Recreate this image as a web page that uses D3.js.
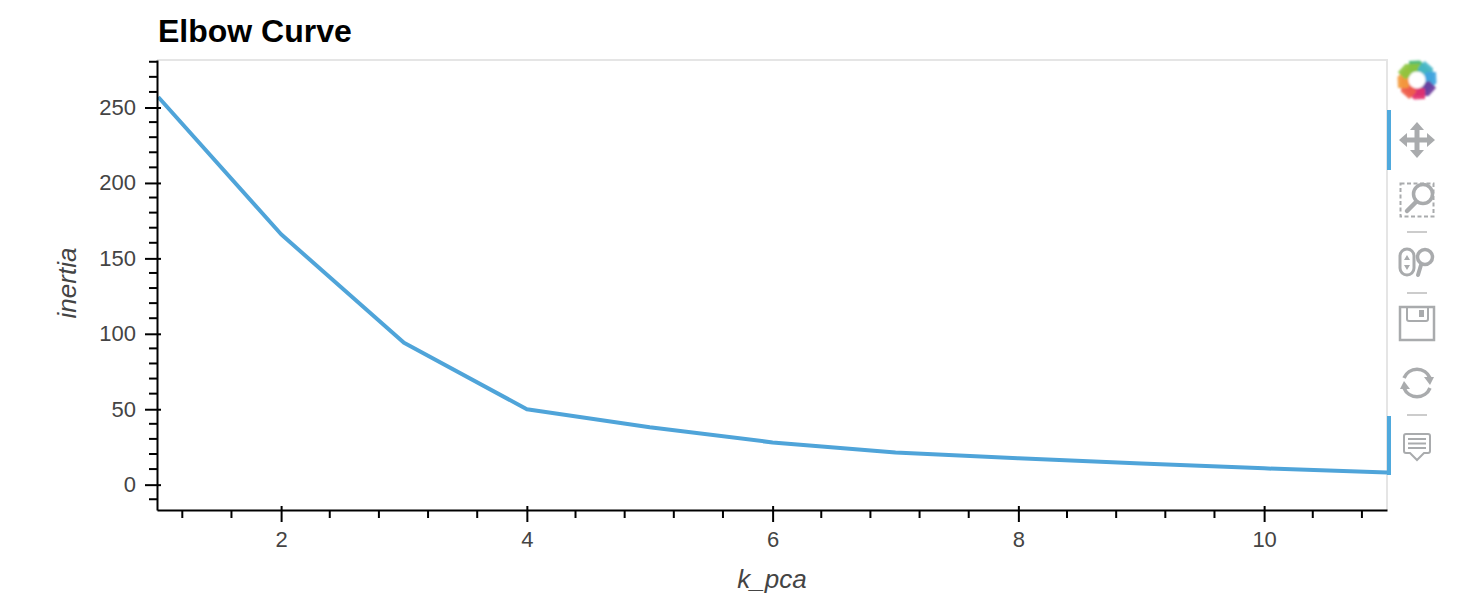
<!DOCTYPE html>
<html>
<head>
<meta charset="utf-8">
<script src="https://cdn.jsdelivr.net/npm/d3@7"></script>
<style>
  html, body { margin: 0; padding: 0; background: #fff; }
  svg { display: block; }
  text { font-family: "Liberation Sans", Arial, sans-serif; }
</style>
</head>
<body>
<div id="chart"></div>
<script>
const kValues = [1, 2, 3, 4, 5, 6, 7, 8, 9, 10, 11];
const inertia = [257, 166, 94, 50, 38, 28, 21.3, 17.5, 14, 10.8, 8];
const xTicks = [2, 4, 6, 8, 10];
const yTicks = [0, 50, 100, 150, 200, 250];
const xMinorTicks = [1.2, 1.6, 2.4, 2.8, 3.2, 3.6, 4.4, 4.8, 5.2, 5.6, 6.4, 6.8, 7.2, 7.6, 8.4, 8.8, 9.2, 9.6, 10.4, 10.8];
const yMinorTicks = [-10, 10, 20, 30, 40, 60, 70, 80, 90, 110, 120, 130, 140, 160, 170, 180, 190, 210, 220, 230, 240, 260, 270, 280];
const titleText = "Elbow Curve";
const xLabel = "k_pca";
const yLabel = "inertia";

const margin = { top: 60, right: 81, bottom: 96, left: 157 };
const width = 1468 - margin.left - margin.right;
const height = 606 - margin.top - margin.bottom;

const xScale = d3.scaleLinear().domain([0.99, 11]).range([0, width]);
const yScale = d3.scaleLinear().domain([-16.8, 281.5]).range([height, 0]);

const root = d3.select("#chart").append("svg")
    .attr("width", 1468)
    .attr("height", 606);

const svg = root.append("g")
    .attr("transform", `translate(${margin.left},${margin.top})`);

// plot frame, only top and right show
svg.append("path")
    .attr("d", `M0,0H${width}V${height}`)
    .attr("fill", "none")
    .attr("stroke", "#e5e5e5")
    .attr("stroke-width", 2);

// the curve
const line = d3.line()
    .x((d, i) => xScale(kValues[i]))
    .y(d => yScale(d));

svg.append("path")
    .datum(inertia)
    .attr("d", line)
    .attr("fill", "none")
    .attr("stroke", "#4fa4d9")
    .attr("stroke-width", 4)
    .attr("stroke-linejoin", "round");

// axes
function styleAxis(g) {
    g.selectAll("line, path").attr("stroke", "#000").attr("stroke-width", 2);
}

// minor ticks sit about a pixel before their exact spot in the reference
svg.append("g")
    .attr("transform", `translate(-1,${height})`)
    .call(d3.axisBottom(xScale).tickValues(xMinorTicks).tickSize(8).tickSizeOuter(0).tickFormat(""))
    .call(styleAxis)
    .call(g => g.select(".domain").remove());

const xAxis = svg.append("g")
    .attr("transform", `translate(0,${height})`)
    .call(d3.axisBottom(xScale).tickValues(xTicks).tickSize(12).tickSizeOuter(0).tickPadding(9))
    .call(styleAxis);
xAxis.selectAll(".tick line").attr("y1", -4);
xAxis.selectAll("text").attr("font-size", 22).attr("fill", "#444")
    .style("font-family", '"Liberation Sans", Arial, sans-serif');

svg.append("g")
    .attr("transform", "translate(0,-1)")
    .call(d3.axisLeft(yScale).tickValues(yMinorTicks).tickSize(8).tickSizeOuter(0).tickFormat(""))
    .call(styleAxis)
    .call(g => g.select(".domain").remove());

const yAxis = svg.append("g")
    .call(d3.axisLeft(yScale).tickValues(yTicks).tickSize(12).tickSizeOuter(0).tickPadding(9))
    .call(styleAxis);
yAxis.selectAll(".tick line").attr("x1", 4);
yAxis.selectAll("text").attr("font-size", 22).attr("fill", "#444")
    .style("font-family", '"Liberation Sans", Arial, sans-serif');

// labels
root.append("text")
    .attr("x", 158)
    .attr("y", 42)
    .attr("font-size", 32)
    .attr("font-weight", "bold")
    .attr("fill", "#000")
    .text(titleText);

root.append("text")
    .attr("x", 772)
    .attr("y", 588)
    .attr("text-anchor", "middle")
    .attr("font-size", 26)
    .attr("font-style", "italic")
    .attr("fill", "#444")
    .text(xLabel);

root.append("text")
    .attr("transform", "translate(76,283) rotate(-90)")
    .attr("text-anchor", "middle")
    .attr("font-size", 26)
    .attr("font-style", "italic")
    .attr("fill", "#444")
    .text(yLabel);

// toolbar
const tools = root.append("g").attr("class", "toolbar");
const grey = "#a9abad";

// active tool markers
tools.append("rect").attr("x", 1387).attr("y", 110).attr("width", 4).attr("height", 60).attr("fill", "#4fa9dd");
tools.append("rect").attr("x", 1387).attr("y", 416).attr("width", 4).attr("height", 59).attr("fill", "#4fa9dd");

// logo: a pinwheel of eight petals, slightly soft like the scaled bitmap
root.append("defs").append("filter").attr("id", "soft")
    .append("feGaussianBlur").attr("stdDeviation", 0.9);
const logoColors = ["#3fb56c", "#45b6c9", "#3fa4e0", "#6b3a9c", "#e5336f", "#ef5f4a", "#f39a3c", "#8cc63f"];
const logo = tools.append("g").attr("transform", "translate(1417,80)").attr("filter", "url(#soft)");
logoColors.forEach((c, i) => {
    logo.append("path")
        .attr("d", "M-8,-19 L3,-19.5 L14,-9 L2,-5 L-8,-9 Z")
        .attr("fill", c)
        .attr("opacity", 0.92)
        .attr("transform", `rotate(${i * 45})`);
});
logo.append("circle").attr("r", 8.5).attr("fill", "#fff");

// pan
tools.append("path")
    .attr("transform", "translate(1417,140)")
    .attr("d", "M0,-18 L7,-10 H2.5 V-2.5 H10 V-7 L18,0 L10,7 V2.5 H2.5 V10 H7 L0,18 L-7,10 H-2.5 V2.5 H-10 V7 L-18,0 L-10,-7 V-2.5 H-2.5 V-10 H-7 Z")
    .attr("fill", grey);

// box zoom
tools.append("rect").attr("x", 1400.5).attr("y", 183.5).attr("width", 33).attr("height", 33)
    .attr("fill", "none").attr("stroke", grey).attr("stroke-width", 2).attr("stroke-dasharray", "4 2.5");
tools.append("circle").attr("cx", 1423).attr("cy", 194).attr("r", 9.5)
    .attr("fill", "#fff").attr("stroke", grey).attr("stroke-width", 3.5);
tools.append("path").attr("d", "M1416,202 L1407,211").attr("stroke", grey).attr("stroke-width", 4.5).attr("stroke-linecap", "round");

// separators
[232, 293, 415].forEach(y => {
    tools.append("rect").attr("x", 1407).attr("y", y - 1).attr("width", 20).attr("height", 2).attr("fill", "#ccc");
});

// wheel zoom
tools.append("rect").attr("x", 1400).attr("y", 249).attr("width", 14).attr("height", 26).attr("rx", 7)
    .attr("fill", "none").attr("stroke", grey).attr("stroke-width", 3);
tools.append("path").attr("d", "M1407,255 L1410,260 H1404 Z M1407,270 L1410,265 H1404 Z").attr("fill", grey);
tools.append("circle").attr("cx", 1425).attr("cy", 257).attr("r", 7.5)
    .attr("fill", "none").attr("stroke", grey).attr("stroke-width", 3.5);
tools.append("path").attr("d", "M1421,265 L1418,275").attr("stroke", grey).attr("stroke-width", 4).attr("stroke-linecap", "round");

// save
tools.append("rect").attr("x", 1400).attr("y", 307).attr("width", 34).attr("height", 33)
    .attr("fill", "none").attr("stroke", grey).attr("stroke-width", 2.5);
tools.append("path").attr("d", "M1407,307 V319 Q1407,321 1409,321 H1426 Q1428,321 1428,319 V307")
    .attr("fill", "none").attr("stroke", grey).attr("stroke-width", 2);
tools.append("rect").attr("x", 1419).attr("y", 310).attr("width", 5).attr("height", 7).attr("fill", grey);

// reset
tools.append("path").attr("d", "M1404,378 A14,14 0 0 1 1430,378")
    .attr("fill", "none").attr("stroke", grey).attr("stroke-width", 3.5);
tools.append("path").attr("d", "M1430,388 A14,14 0 0 1 1404,388")
    .attr("fill", "none").attr("stroke", grey).attr("stroke-width", 3.5);
tools.append("path").attr("d", "M1424,377 L1434,377 L1430,385 Z M1400,389 L1410,389 L1404,381 Z").attr("fill", grey);

// hover
tools.append("path")
    .attr("d", "M1406,434 H1428 Q1430,434 1430,436 V451 Q1430,453 1428,453 H1424 L1417,460 L1410,453 H1406 Q1404,453 1404,451 V436 Q1404,434 1406,434 Z")
    .attr("fill", "none").attr("stroke", grey).attr("stroke-width", 2);
[439, 443.5, 448].forEach(y => {
    tools.append("rect").attr("x", 1408).attr("y", y - 1).attr("width", 18).attr("height", 2).attr("fill", grey);
});
</script>
</body>
</html>
